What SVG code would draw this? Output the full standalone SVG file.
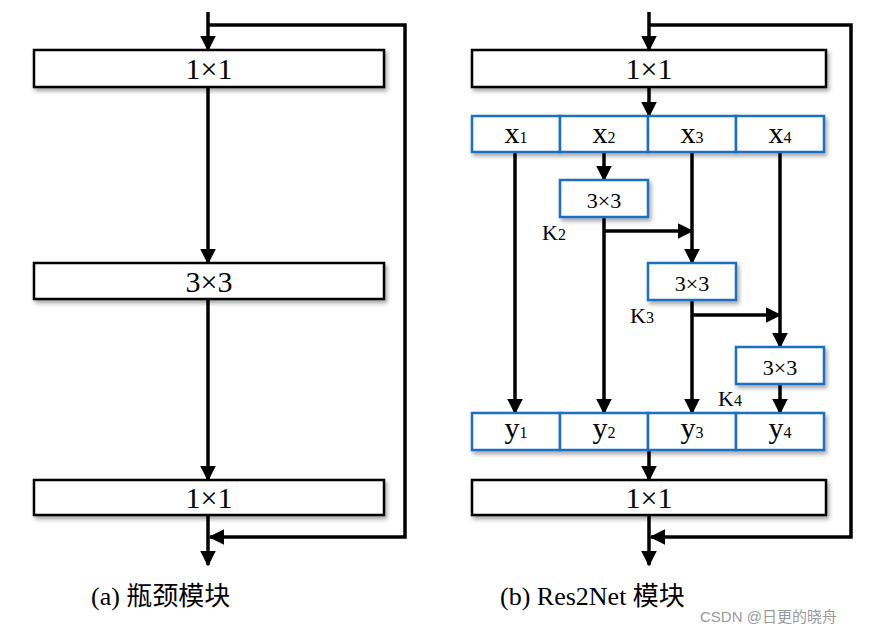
<svg xmlns="http://www.w3.org/2000/svg" width="885" height="635" viewBox="0 0 885 635">
<style>
.bk{fill:#fff;stroke:#000;stroke-width:2.5}
.bl{fill:#fff;stroke:#1a6fc4;stroke-width:2.5}
text{font-family:'Liberation Serif','Times New Roman','DejaVu Serif','Noto Sans CJK SC',serif}
.t{font-size:30px;text-anchor:middle}
.ts{font-size:22px;text-anchor:middle}
.sub{font-size:16px}
.c{fill:none;stroke:#000;stroke-width:3.5}
.cap{font-size:26px}
</style>
<defs>
<marker id="a" viewBox="0 0 10 10" refX="9" refY="5" markerWidth="4.5" markerHeight="4.5" orient="auto" markerUnits="strokeWidth"><path d="M0,0L10,5L0,10z"/></marker>
<filter id="sh" x="-5%" y="-20%" width="112%" height="150%"><feDropShadow dx="2" dy="3" stdDeviation="2" flood-opacity="0.35"/></filter>
</defs>
<g id="connectors">
<path class="c" d="M208,12V50" marker-end="url(#a)"/>
<path class="c" d="M208,25H405V537H210" marker-end="url(#a)"/>
<path class="c" d="M208,87V263" marker-end="url(#a)"/>
<path class="c" d="M208,299V480" marker-end="url(#a)"/>
<path class="c" d="M208,515V565" marker-end="url(#a)"/>
<path class="c" d="M649,12V50" marker-end="url(#a)"/>
<path class="c" d="M649,25H851V537H651" marker-end="url(#a)"/>
<path class="c" d="M649,87V116" marker-end="url(#a)"/>
<path class="c" d="M515,152V413" marker-end="url(#a)"/>
<path class="c" d="M604,152V180" marker-end="url(#a)"/>
<path class="c" d="M604,217V413" marker-end="url(#a)"/>
<path class="c" d="M604,231H692" marker-end="url(#a)"/>
<path class="c" d="M692,152V263" marker-end="url(#a)"/>
<path class="c" d="M692,300V413" marker-end="url(#a)"/>
<path class="c" d="M692,315H780" marker-end="url(#a)"/>
<path class="c" d="M780,152V347" marker-end="url(#a)"/>
<path class="c" d="M780,384V413" marker-end="url(#a)"/>
<path class="c" d="M649,450V480" marker-end="url(#a)"/>
<path class="c" d="M649,515V565" marker-end="url(#a)"/>
</g>
<g id="a1"><rect class="bk" x="34" y="50" width="350" height="37" filter="url(#sh)"/><text class="t" x="209" y="79">1×1</text></g>
<g id="a2"><rect class="bk" x="34" y="263" width="350" height="36" filter="url(#sh)"/><text class="t" x="209" y="292">3×3</text></g>
<g id="a3"><rect class="bk" x="34" y="480" width="350" height="35" filter="url(#sh)"/><text class="t" x="209" y="508">1×1</text></g>
<g id="b1"><rect class="bk" x="472" y="50" width="354" height="37" filter="url(#sh)"/><text class="t" x="649" y="79">1×1</text></g>
<g id="xs" filter="url(#sh)">
<rect class="bl" x="472" y="116" width="88" height="36"/><rect class="bl" x="560" y="116" width="88" height="36"/><rect class="bl" x="648" y="116" width="88" height="36"/><rect class="bl" x="736" y="116" width="88" height="36"/>
</g>
<g id="xt">
<text class="t" x="516" y="143">x<tspan class="sub">1</tspan></text><text class="t" x="604" y="143">x<tspan class="sub">2</tspan></text><text class="t" x="692" y="143">x<tspan class="sub">3</tspan></text><text class="t" x="780" y="143">x<tspan class="sub">4</tspan></text>
</g>
<g id="k2"><rect class="bl" x="560" y="180" width="88" height="37" filter="url(#sh)"/><text class="ts" x="604" y="208">3×3</text></g>
<g id="k3"><rect class="bl" x="648" y="263" width="88" height="37" filter="url(#sh)"/><text class="ts" x="692" y="291">3×3</text></g>
<g id="k4"><rect class="bl" x="736" y="347" width="88" height="37" filter="url(#sh)"/><text class="ts" x="780" y="375">3×3</text></g>
<g id="klabels">
<text class="ts" x="554" y="240">K<tspan class="sub">2</tspan></text>
<text class="ts" x="642" y="323">K<tspan class="sub">3</tspan></text>
<text class="ts" x="730" y="406">K<tspan class="sub">4</tspan></text>
</g>
<g id="ys" filter="url(#sh)">
<rect class="bl" x="472" y="413" width="88" height="37"/><rect class="bl" x="560" y="413" width="88" height="37"/><rect class="bl" x="648" y="413" width="88" height="37"/><rect class="bl" x="736" y="413" width="88" height="37"/>
</g>
<g id="yt">
<text class="t" x="516" y="438">y<tspan class="sub">1</tspan></text><text class="t" x="604" y="438">y<tspan class="sub">2</tspan></text><text class="t" x="692" y="438">y<tspan class="sub">3</tspan></text><text class="t" x="780" y="438">y<tspan class="sub">4</tspan></text>
</g>
<g id="b2"><rect class="bk" x="472" y="480" width="354" height="35" filter="url(#sh)"/><text class="t" x="649" y="508">1×1</text></g>
<text class="cap" x="91" y="605">(a) 瓶颈模块</text>
<text class="cap" x="500" y="605">(b) Res2Net 模块</text>
<text x="700" y="622" style="font-family:'Liberation Sans','Noto Sans CJK SC',sans-serif" font-size="15" fill="#999">CSDN @日更的晓舟</text>
</svg>
